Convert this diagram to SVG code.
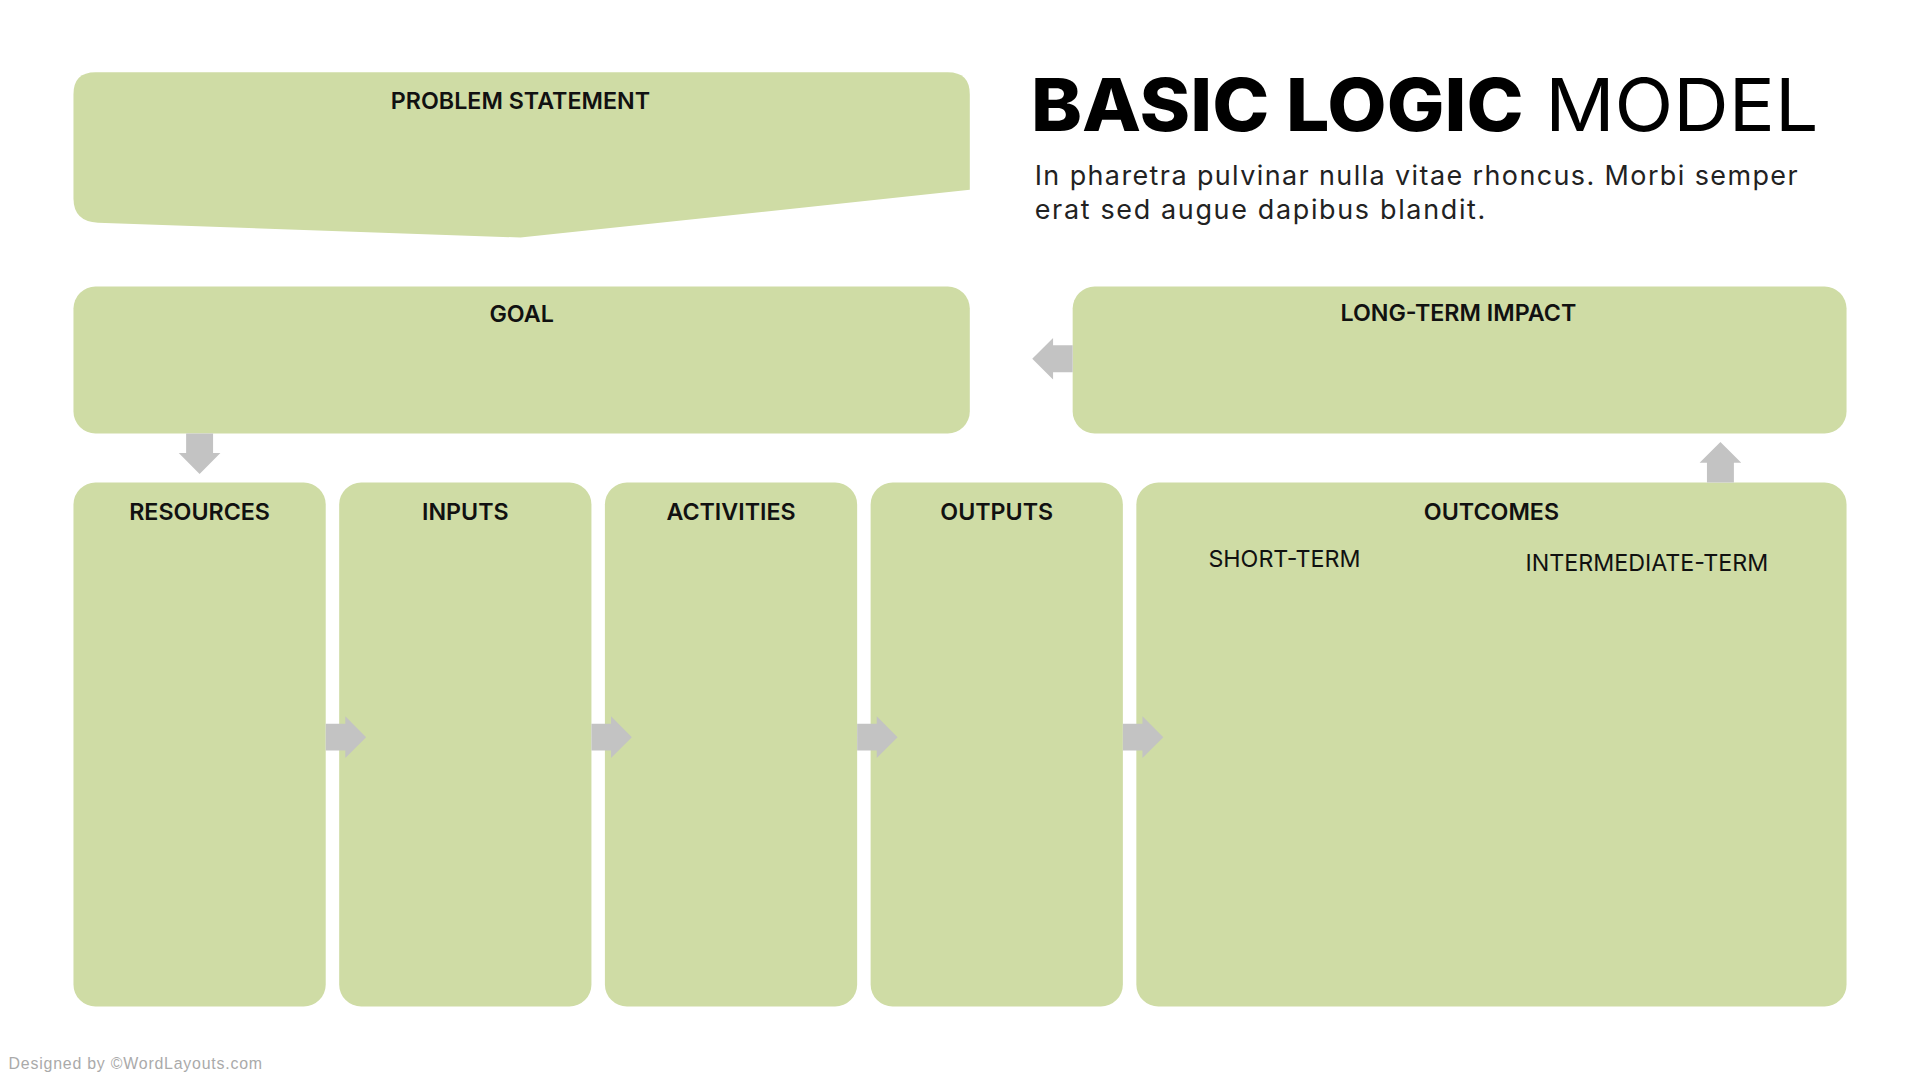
<svg xmlns="http://www.w3.org/2000/svg" width="1920" height="1080" viewBox="0 0 1920 1080">
<style>
.box{fill:#cfdca5}
.arr{fill:#c3c3c3}
.lbl{font-family:Inter,"Liberation Sans",sans-serif;font-weight:600;font-size:19px;fill:#111;text-anchor:middle}
.sub{font-family:Inter,"Liberation Sans",sans-serif;font-size:19px;fill:#111;text-anchor:middle}
</style>
<defs>
<path id="ra" d="M0,-11 H16 V-17 L33,0 L16,17 V11 H0 Z"/>
</defs>
<rect width="1920" height="1080" fill="#fff"/>
<g transform="scale(1.2245)">
<g id="problem"><path class="box" d="M78,59 H774 Q792,59 792,77 V155 L425,194 L80,182 Q60,181 60,162 V77 Q60,59 78,59 Z"/><text class="lbl" x="425" y="89">PROBLEM STATEMENT</text></g>
<g id="title"><text x="842" y="107" textLength="643" lengthAdjust="spacingAndGlyphs" font-family="Inter,'Liberation Sans',sans-serif" font-size="60" fill="#000"><tspan font-weight="800">BASIC LOGIC</tspan><tspan font-weight="400"> MODEL</tspan></text>
<text font-family="Inter,'Liberation Sans',sans-serif" font-size="22" fill="#222"><tspan x="845" y="151" textLength="623">In pharetra pulvinar nulla vitae rhoncus. Morbi semper</tspan><tspan x="845" y="179" textLength="368">erat sed augue dapibus blandit.</tspan></text></g>
<g id="goal"><rect class="box" x="60" y="234" width="732" height="120" rx="18"/><text class="lbl" x="426" y="263">GOAL</text></g>
<g id="impact"><rect class="box" x="876" y="234" width="632" height="120" rx="18"/><text class="lbl" x="1191" y="262">LONG-TERM IMPACT</text></g>
<g id="resources"><rect class="box" x="60" y="394" width="206" height="428" rx="18"/><text class="lbl" x="163" y="425">RESOURCES</text></g>
<g id="inputs"><rect class="box" x="277" y="394" width="206" height="428" rx="18"/><text class="lbl" x="380" y="425">INPUTS</text></g>
<g id="activities"><rect class="box" x="494" y="394" width="206" height="428" rx="18"/><text class="lbl" x="597" y="425">ACTIVITIES</text></g>
<g id="outputs"><rect class="box" x="711" y="394" width="206" height="428" rx="18"/><text class="lbl" x="814" y="425">OUTPUTS</text></g>
<g id="outcomes"><rect class="box" x="928" y="394" width="580" height="428" rx="18"/><text class="lbl" x="1218" y="425">OUTCOMES</text>
<text class="sub" x="1049" y="463">SHORT-TERM</text><text class="sub" x="1345" y="466">INTERMEDIATE-TERM</text></g>
<g id="connectors" class="arr">
<use href="#ra" x="266" y="602"/><use href="#ra" x="483" y="602"/><use href="#ra" x="700" y="602"/><use href="#ra" x="917" y="602"/>
<use href="#ra" transform="translate(163,354) rotate(90)"/>
<use href="#ra" transform="translate(1405,394) rotate(-90)"/>
<use href="#ra" transform="translate(876,293) rotate(180)"/>
</g>
<text x="7" y="873" textLength="207" font-family="'Liberation Sans',sans-serif" font-size="13" fill="#aaa">Designed by ©WordLayouts.com</text>
</g>
</svg>
